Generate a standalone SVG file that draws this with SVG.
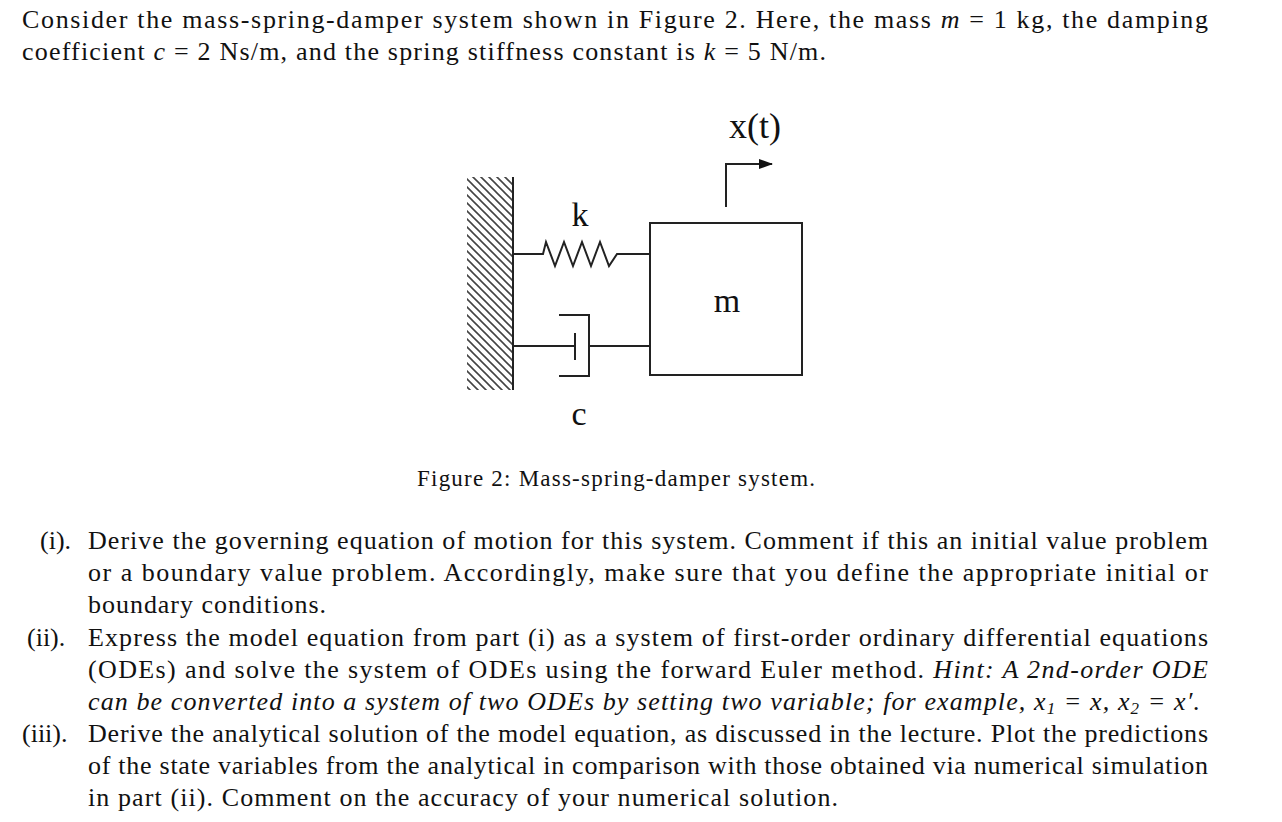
<svg xmlns="http://www.w3.org/2000/svg" width="1282" height="822" viewBox="0 0 1282 822">
<style>
text{font-family:"Liberation Serif","DejaVu Serif",serif;fill:#111;}
.b{font-size:26px;}
.i{font-style:italic;}
.ln{stroke:#222;stroke-width:2;fill:none;}
</style>
<defs>
<marker id="ah" markerWidth="14" markerHeight="10" refX="13" refY="5" orient="auto" markerUnits="userSpaceOnUse"><path d="M0,0 L14,5 L0,10 z" fill="#111"/></marker>
<pattern id="hatch" width="8" height="8" patternUnits="userSpaceOnUse"><path d="M-2,-2 L10,10 M-2,6 L2,10 M6,-2 L10,2" stroke="#444" stroke-width="1.6"/></pattern>
</defs>
<rect width="1282" height="822" fill="#fff"/>
<text class="b" x="22" y="28" textLength="1186" lengthAdjust="spacing">Consider the mass-spring-damper system shown in Figure 2.  Here, the mass <tspan class="i">m</tspan> = 1 kg, the damping</text>
<text class="b" x="22" y="60" textLength="804" lengthAdjust="spacing">coefficient <tspan class="i">c</tspan> = 2 Ns/m, and the spring stiffness constant is <tspan class="i">k</tspan> = 5 N/m.</text>
<g id="wall"><rect x="467" y="177" width="46" height="213" fill="url(#hatch)"/><line class="ln" x1="513" y1="177" x2="513" y2="390"/></g>
<g id="spring"><polyline class="ln" points="513,254 543,254 546,242 555,266 564,242 573,266 582,242 591,266 600,242 609,266 617,254 650,254"/><text x="580" y="226" font-size="34" text-anchor="middle">k</text></g>
<g id="damper"><polyline class="ln" points="513,346 575,346"/><line class="ln" x1="575" y1="333" x2="575" y2="360"/><polyline class="ln" points="559,315 589,315 589,376 559,376"/><line class="ln" x1="589" y1="346" x2="650" y2="346"/><text x="579" y="425" font-size="34" text-anchor="middle">c</text></g>
<g id="mass"><rect class="ln" x="650" y="223" width="152" height="152"/><text x="727" y="312" font-size="34" text-anchor="middle">m</text></g>
<g id="connectors"><polyline class="ln" points="726,207 726,164 772,164" marker-end="url(#ah)"/><text x="755" y="138" font-size="36" text-anchor="middle">x(t)</text></g>
<text x="417" y="486" font-size="23" textLength="398" lengthAdjust="spacing">Figure 2:  Mass-spring-damper system.</text>
<g>
<text class="b" x="40" y="549">(i).</text>
<text class="b" x="88" y="549" textLength="1120" lengthAdjust="spacing">Derive the governing equation of motion for this system.  Comment if this an initial value problem</text>
<text class="b" x="88" y="581" textLength="1120" lengthAdjust="spacing">or a boundary value problem.  Accordingly, make sure that you define the appropriate initial or</text>
<text class="b" x="88" y="613" textLength="238" lengthAdjust="spacing">boundary conditions.</text>
<text class="b" x="27" y="646">(ii).</text>
<text class="b" x="88" y="646" textLength="1120" lengthAdjust="spacing">Express the model equation from part (i) as a system of first-order ordinary differential equations</text>
<text class="b" x="88" y="678" textLength="1120" lengthAdjust="spacing">(ODEs) and solve the system of ODEs using the forward Euler method.  <tspan class="i">Hint: A 2nd-order ODE</tspan></text>
<text class="b i" x="88" y="710" textLength="1112" lengthAdjust="spacing">can be converted into a system of two ODEs by setting two variable; for example, x<tspan font-size="17" dy="4">1</tspan><tspan dy="-4"> = x, x</tspan><tspan font-size="17" dy="4">2</tspan><tspan dy="-4"> = x′.</tspan></text>
<text class="b" x="22" y="742">(iii).</text>
<text class="b" x="88" y="742" textLength="1120" lengthAdjust="spacing">Derive the analytical solution of the model equation, as discussed in the lecture. Plot the predictions</text>
<text class="b" x="88" y="774" textLength="1120" lengthAdjust="spacing">of the state variables from the analytical in comparison with those obtained via numerical simulation</text>
<text class="b" x="88" y="806" textLength="750" lengthAdjust="spacing">in part (ii).  Comment on the accuracy of your numerical solution.</text>
</g>
</svg>
